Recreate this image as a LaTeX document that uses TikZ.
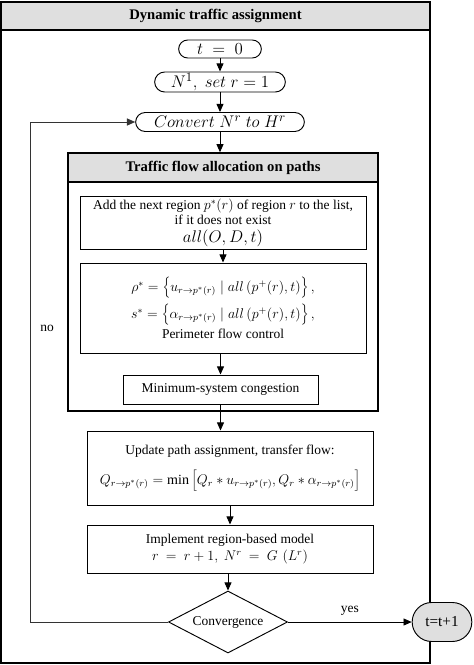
\documentclass[tikz,border=0pt]{standalone}
\usepackage{fontspec}
\setmainfont{Liberation Serif}
\usetikzlibrary{shapes.misc,shapes.geometric,arrows.meta}
\begin{document}
\begin{tikzpicture}
    [x=0.03cm,y=-0.03cm,
     rbox/.style={rounded rectangle,draw,thick,inner sep=1pt,font=\fontsize{15.5}{17}\selectfont},
     box/.style={rectangle,draw,thick,align=center,inner sep=2pt,font=\fontsize{11.5}{13}\selectfont},
     band/.style={rectangle,draw,line width=1.2pt,fill=gray!25,inner sep=0pt,font=\fontsize{12.5}{14}\selectfont\bfseries},
     frame/.style={rectangle,draw,line width=1.6pt,inner sep=0pt},
     decision/.style={diamond,draw,thick,aspect=2,inner sep=0pt,font=\fontsize{11.5}{13}\selectfont},
     arr/.style={-{Triangle[length=7pt,width=6pt]},thick} ]

    \useasboundingbox (0,0) rectangle (474,665);

    % outer frame
    \node (main) at (215.5,332.5) [frame,minimum width=12.87cm,minimum height=19.83cm] {};
    \node (maintitle) at (215.5,16) [band,minimum width=12.87cm,minimum height=0.84cm] {Dynamic traffic assignment};

    \node (t0) at (220,49) [rbox,minimum width=2.55cm,minimum height=0.54cm] {$t\;=\;0$};
    \node (n1) at (220,82) [rbox,minimum width=3.99cm,minimum height=0.57cm] {$N^1,\ set\ r=1$};
    \node (conv) at (220,122) [rbox,minimum width=5.13cm,minimum height=0.57cm] {$Convert\ N^r\ to\ H^r$};

    % traffic flow allocation
    \node (alloc) at (223,282) [frame,minimum width=9.3cm,minimum height=7.74cm] {};
    \node (flowtitle) at (223,167.5) [band,minimum width=9.3cm,minimum height=0.87cm] {Traffic flow allocation on paths};

    \node (add) at (223,222.5) [box,minimum width=8.58cm,minimum height=1.59cm,inner sep=0pt]
        {Add the next region $p^*(r)$ of region $r$ to the list,\\ if it does not exist\\[2pt] {\Large $all(O,D,t)$}};
    \node (rho) at (223,308) [box,minimum width=8.58cm,minimum height=2.7cm]
        {$\rho^* = \left\{u_{r\to p^*(r)} \mid all\left(p^+(r),t\right)\right\},$\\[4pt]
         $s^* = \left\{\alpha_{r\to p^*(r)} \mid all\left(p^+(r),t\right)\right\},$\\[2pt]
         Perimeter flow control};
    \node (minc) at (220.5,389.5) [box,minimum width=5.85cm,minimum height=0.87cm] {Minimum-system congestion};

    \node (update) at (230,468) [box,minimum width=8.58cm,minimum height=2.22cm]
        {Update path assignment, transfer flow:\\[10pt]
         {\large $Q_{r\to p^*(r)} = \min\Big[Q_r * u_{r\to p^*(r)} ,Q_r * \alpha_{r\to p^*(r)}\Big]$}};
    \node (impl) at (230,549) [box,minimum width=8.58cm,minimum height=1.44cm]
        {Implement region-based model\\[2pt] $r\ =\ r+1,\ N^r\ =\ G\,\left(L^r\right)$};

    \node (check) at (228,622) [decision,minimum width=3.57cm,minimum height=1.86cm] {Convergence};
    \node (next) at (442,622) [rbox,fill=gray!25,minimum width=1.86cm,minimum height=1.17cm,font=\fontsize{13}{15}\selectfont] {t=t+1};

    \coordinate (back) at (30,622);

    \draw[arr] (t0.south) -- (n1.north);
    \draw[arr] (n1.south) -- (conv.north);
    \draw[arr] (conv.south) -- (conv.south |- flowtitle.north);
    \draw[arr] (add.south) -- (add.south |- rho.north);
    \draw[arr] (rho.south -| minc.north) -- (minc.north);
    \draw[arr] (minc.south) -- (minc.south |- update.north);
    \draw[arr] (update.south) -- (impl.north);
    \draw[arr] (impl.south -| check.north) -- (check.north);
    \draw[arr] (check.east) -- (next.west) node[midway,above=2pt,font=\fontsize{11.5}{13}\selectfont] {yes};
    \draw[arr,draw=black!80] (check.west) -- (back) |- (conv.west);
    \node (no) at (47,328) [font=\fontsize{11.5}{13}\selectfont] {no};

\end{tikzpicture}
\end{document}
